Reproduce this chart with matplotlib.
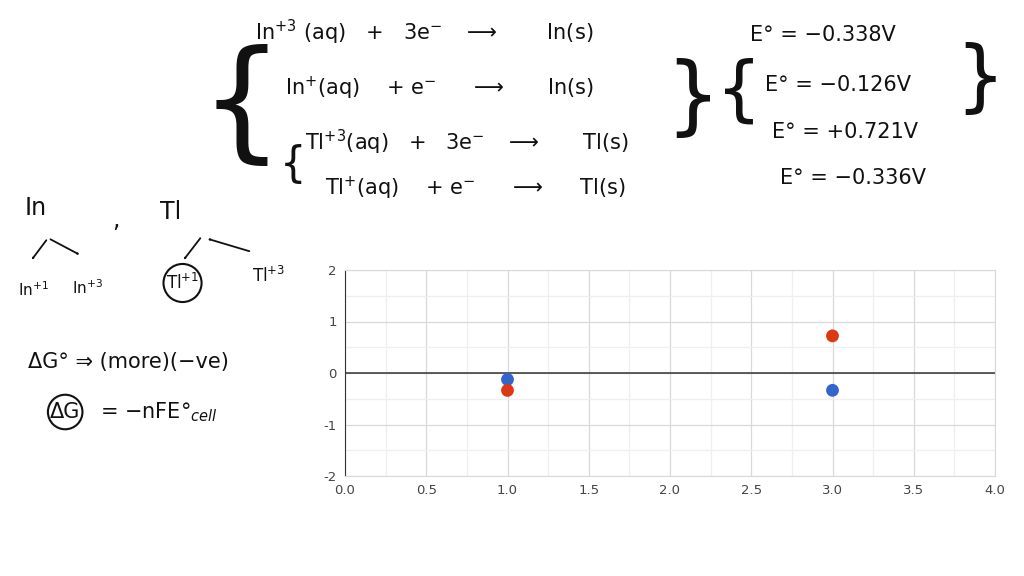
import matplotlib
matplotlib.use("Agg")
import matplotlib.pyplot as plt
from matplotlib.ticker import MultipleLocator

# series
blue_x = [1.0, 3.0]
blue_y = [-0.126, -0.336]
red_x = [1.0, 3.0]
red_y = [-0.338, 0.721]

x_ticks = [0.0, 0.5, 1.0, 1.5, 2.0, 2.5, 3.0, 3.5, 4.0]
y_ticks = [-2, -1, 0, 1, 2]

# handwritten notes around the chart
reactions = ["In$^{+3}$ (aq)   +   3e$^{-}$   $\\longrightarrow$       In(s)",
             "In$^{+}$(aq)    + e$^{-}$     $\\longrightarrow$      In(s)",
             "Tl$^{+3}$(aq)   +   3e$^{-}$   $\\longrightarrow$      Tl(s)",
             "Tl$^{+}$(aq)    + e$^{-}$     $\\longrightarrow$     Tl(s)"]
potentials = ["E° = −0.338V", "E° = −0.126V", "E° = +0.721V", "E° = −0.336V"]

fig = plt.figure(figsize=(10.24, 5.76), dpi=100)
fig.patch.set_facecolor("white")

W, H = 1024, 576

def px(x, y):
    return x / W, 1 - y / H

# reactions block
react_pos = [(255, 32), (285, 88), (305, 142), (325, 188)]
for (x, y), s in zip(react_pos, reactions):
    fig.text(*px(x, y), s, fontsize=15, va="center", ha="left", color="#111")
fig.text(*px(200, 108), "{", fontsize=95, va="center", ha="left", color="#111")
fig.text(*px(665, 100), "}", fontsize=62, va="center", ha="left", color="#111")
fig.text(*px(280, 165), "{", fontsize=30, va="center", ha="left", color="#111")

# potentials block
pot_pos = [(750, 35), (765, 85), (772, 132), (780, 178)]
for (x, y), s in zip(pot_pos, potentials):
    fig.text(*px(x, y), s, fontsize=15, va="center", ha="left", color="#111")
fig.text(*px(716, 92), "{", fontsize=52, va="center", ha="left", color="#111")
fig.text(*px(955, 80), "}", fontsize=56, va="center", ha="left", color="#111")

# left side notes
fig.text(*px(25, 208), "In", fontsize=17, va="center", color="#111")
fig.text(*px(112, 220), ",", fontsize=17, va="center", color="#111")
fig.text(*px(160, 212), "Tl", fontsize=17, va="center", color="#111")
fig.text(*px(18, 290), "In$^{+1}$", fontsize=11, va="center", color="#111")
fig.text(*px(72, 288), "In$^{+3}$", fontsize=11, va="center", color="#111")
fig.text(*px(166, 283), "Tl$^{+1}$", fontsize=12, va="center", color="#111",
         bbox=dict(boxstyle="circle,pad=0.15", fc="none", ec="#111", lw=1.5))
fig.text(*px(252, 276), "Tl$^{+3}$", fontsize=12, va="center", color="#111")
fig.text(*px(28, 362), "ΔG° ⇒ (more)(−ve)", fontsize=15, va="center", color="#111")
fig.text(*px(50, 412), "ΔG", fontsize=15, va="center", color="#111",
         bbox=dict(boxstyle="circle,pad=0.1", fc="none", ec="#111", lw=1.5))
fig.text(*px(100, 412), "= −nFE°$_{cell}$", fontsize=15, va="center", color="#111")

# branch arrows
arrow_kw = dict(arrowstyle="->", color="#111", lw=1.3)
fig.add_artist(matplotlib.patches.FancyArrowPatch(px(48, 238), px(30, 262), transform=fig.transFigure, **arrow_kw))
fig.add_artist(matplotlib.patches.FancyArrowPatch(px(48, 238), px(82, 256), transform=fig.transFigure, **arrow_kw))
fig.add_artist(matplotlib.patches.FancyArrowPatch(px(202, 236), px(182, 262), transform=fig.transFigure, **arrow_kw))
fig.add_artist(matplotlib.patches.FancyArrowPatch(px(252, 252), px(205, 238), transform=fig.transFigure, **arrow_kw))

# chart
ax = fig.add_axes([345 / W, (H - 476) / H, 650 / W, 206 / H])
ax.set_xlim(0, 4)
ax.set_ylim(-2, 2)
ax.xaxis.set_major_locator(MultipleLocator(0.5))
ax.xaxis.set_minor_locator(MultipleLocator(0.25))
ax.yaxis.set_major_locator(MultipleLocator(1))
ax.yaxis.set_minor_locator(MultipleLocator(0.5))
ax.set_xticks(x_ticks)
ax.set_xticklabels([f"{t:.1f}" for t in x_ticks])
ax.set_yticks(y_ticks)
ax.set_yticklabels([str(t) for t in y_ticks])
ax.grid(which="major", color="#d9d9d9", lw=0.9)
ax.grid(which="minor", color="#efefef", lw=0.9)
ax.set_axisbelow(True)
ax.tick_params(which="both", length=0, labelsize=9.5, colors="#444", pad=6)
for side in ["top", "right", "bottom"]:
    ax.spines[side].set_color("#d9d9d9")
ax.spines["left"].set_color("#333")
ax.axhline(0, color="#333", lw=1.1, zorder=2)

ax.scatter(blue_x, blue_y, s=85, color="#3366cc", zorder=3, edgecolors="none")
ax.scatter(red_x, red_y, s=85, color="#dc3912", zorder=3, edgecolors="none")

fig.savefig("out.png", dpi=100)
